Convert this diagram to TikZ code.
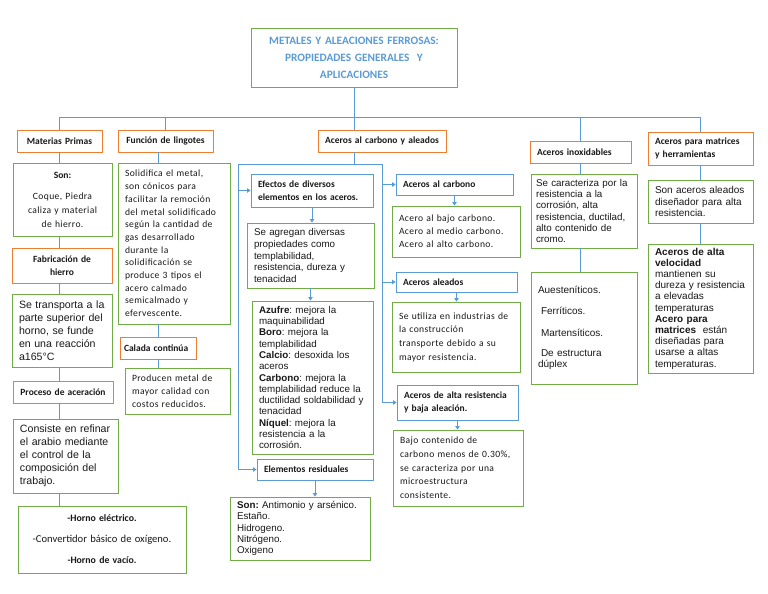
\documentclass[tikz,border=0pt]{standalone}
\usepackage{fontspec}
\setmainfont{Liberation Sans}
\newfontfamily\calibri{Carlito}
\newfontfamily\calibrisp{Carlito}[LetterSpace=4]
\usetikzlibrary{arrows.meta}
\usetikzlibrary{calc}
\definecolor{lineblue}{RGB}{91,155,213}
\definecolor{boxorange}{RGB}{237,125,49}
\definecolor{boxgreen}{RGB}{112,173,71}
\definecolor{textdark}{RGB}{25,25,25}
\frenchspacing

\begin{document}
\begin{tikzpicture}[x=1bp, y=-1bp, line width=0.9bp,
        box_style/.style={rectangle, inner xsep=7bp, inner ysep=2bp, text=textdark},
        title_style/.style={box_style, draw=boxgreen, align=center, text=lineblue, font=\calibri\bfseries\fontsize{11.3bp}{17bp}\selectfont},
        head_style/.style={box_style, draw=boxorange, font=\calibri\bfseries\fontsize{9.5bp}{13bp}\selectfont},
        sub_style/.style={box_style, draw=lineblue, align=left, font=\calibri\bfseries\fontsize{9.5bp}{13bp}\selectfont},
        text_style/.style={box_style, draw=boxgreen, align=left, font=\fontsize{9.8bp}{11.3bp}\selectfont},
        big_text_style/.style={box_style, draw=boxgreen, align=left, font=\fontsize{10.6bp}{13bp}\selectfont},
        cal_text_style/.style={box_style, draw=boxgreen, align=left, font=\calibrisp\fontsize{9.6bp}{12.7bp}\selectfont},
        size/.style 2 args={text width=#1, minimum height=#2},
        edge_style/.style={draw=lineblue, line width=0.8bp},
        arrow_style/.style={edge_style, -{Triangle[width=4.5bp,length=3.5bp]}}]

        \fill [white] (0,0) rectangle (768,594);
        \useasboundingbox (0,0) rectangle (768,594);

        \node [title_style, size={192bp}{59bp}](title) at (354,57.5) {METALES Y ALEACIONES FERROSAS:\\PROPIEDADES GENERALES\ \ Y\\APLICACIONES};

        \node [head_style, size={71bp}{22bp}, align=center](mp) at (59.5,141) {Materias Primas};

        \node [head_style, size={81bp}{22bp}, align=center](fl) at (165.5,141) {Función de lingotes};

        \node [head_style, size={114bp}{22bp}, align=center](aca) at (382,141) {Aceros al carbono y aleados};

        \node [head_style, size={87bp}{22bp}, align=left](inox) at (580.5,152) {Aceros inoxidables};

        \node [head_style, size={91bp}{33bp}, align=left](herr) at (700.5,148.5) {Aceros para matrices\\y herramientas};

        \node [cal_text_style, size={85bp}{73bp}, align=center, font=\calibrisp\fontsize{9.6bp}{14bp}\selectfont](son1) at (62.5,199.5) {{\calibri\bfseries Son:}\\[7bp]Coque, Piedra\\caliza y material\\de hierro.};

        \node [head_style, size={86bp}{35bp}, align=center](fab) at (62,265.5) {Fabricación de\\hierro};

        \node [big_text_style, size={86bp}{73bp}](tra) at (62,330.5) {Se transporta a la\\parte superior del\\horno, se funde\\en una reacción\\a165°C};

        \node [head_style, size={86bp}{22bp}, align=center](proc) at (63,392) {Proceso de aceración};

        \node [big_text_style, size={91bp}{74bp}](cons) at (65.5,456) {Consiste en refinar\\el arabio mediante\\el control de la\\composición del\\trabajo.};

        \node [box_style, draw=boxgreen, size={154bp}{67bp}, align=center, font=\calibri\bfseries\fontsize{9.8bp}{13bp}\selectfont](horno) at (102,539.5) {-Horno eléctrico.\\[8bp]{\mdseries\fontsize{10.6bp}{13bp}\selectfont -Convertidor básico de oxígeno.}\\[8bp]-Horno de vacío.};

        \node [cal_text_style, size={98bp}{161bp}](sol) at (174,243.5) {Solidifica el metal,\\son cónicos para\\facilitar la remoción\\del metal solidificado\\según la cantidad de\\gas desarrollado\\durante la\\solidificación se\\produce 3 tipos el\\acero calmado\\semicalmado y\\efervescente.};

        \node [head_style, size={68bp}{22bp}, inner xsep=4bp, align=left](cal) at (158,348) {Calada continúa};

        \node [cal_text_style, size={91bp}{46bp}, font=\calibrisp\fontsize{9.6bp}{13bp}\selectfont](prod) at (177.5,391) {Producen metal de\\mayor calidad con\\costos reducidos.};

        \node [sub_style, size={108bp}{33bp}](efe) at (312,190.5) {Efectos de diversos\\elementos en los aceros.};

        \node [text_style, size={113bp}{65bp}, font=\fontsize{9.8bp}{11.8bp}\selectfont](agr) at (310.5,255.5) {Se agregan diversas\\propiedades como\\templabilidad,\\resistencia, dureza y\\tenacidad};

        \node [text_style, size={107bp}{153bp}](azu) at (312.5,377.5) {\textbf{Azufre}: mejora la\\maquinabilidad\\\textbf{Boro}: mejora la\\templabilidad\\\textbf{Calcio}: desoxida los\\aceros\\\textbf{Carbono}: mejora la\\templabilidad reduce la\\ductilidad soldabilidad y\\tenacidad\\\textbf{Níquel}: mejora la\\resistencia a la\\corrosión.};

        \node [sub_style, size={102bp}{21bp}](res) at (315,469.5) {Elementos residuales};

        \node [text_style, size={126bp}{63bp}](son2) at (300,528.5) {\textbf{Son:} Antimonio y arsénico.\\Estaño.\\Hidrogeno.\\Nitrógeno.\\Oxigeno};

        \node [sub_style, size={103bp}{21bp}](acb) at (454.5,184.5) {Aceros al carbono};

        \node [cal_text_style, size={114bp}{51bp}, font=\calibrisp\fontsize{9.6bp}{13bp}\selectfont](bajo) at (456,231.5) {Acero al bajo carbono.\\Acero al medio carbono.\\Acero al alto carbono.};

        \node [sub_style, size={107bp}{20bp}](ale) at (456.5,282) {Aceros aleados};

        \node [cal_text_style, size={114bp}{70bp}, font=\calibrisp\fontsize{9.6bp}{13.7bp}\selectfont](uti) at (456,337) {Se utiliza en industrias de\\la construcción\\transporte debido a su\\mayor resistencia.};

        \node [sub_style, size={107bp}{35bp}](alt) at (457.5,402.5) {Aceros de alta resistencia\\y baja aleación.};

        \node [cal_text_style, size={116bp}{76bp}, font=\calibrisp\fontsize{9.6bp}{13.7bp}\selectfont](bco) at (458,468) {Bajo contenido de\\carbono menos de 0.30\%,\\se caracteriza por una\\microestructura\\consistente.};

        \node [text_style, size={96bp}{74bp}, inner xsep=5bp, font=\fontsize{9.8bp}{11.2bp}\selectfont](car) at (584,211) {Se caracteriza por la\\resistencia a la\\corrosión, alta\\resistencia, ductilad,\\alto contenido de\\cromo.};

        \node [text_style, size={92bp}{112bp}, font=\fontsize{10bp}{11.2bp}\selectfont](aus) at (584,328) {Auesteníticos.\\[10bp]\hspace*{3bp}Ferríticos.\\[10bp]\hspace*{3bp}Martensíticos.\\[9bp]\hspace*{3bp}De estructura\\dúplex\\[14bp]};

        \node [text_style, size={91bp}{43bp}, font=\fontsize{10bp}{11.2bp}\selectfont](sae) at (700.5,201.5) {Son aceros aleados\\diseñador para alta\\resistencia.};

        \node [text_style, size={91bp}{129bp}, font=\fontsize{10bp}{11.2bp}\selectfont](vel) at (700.5,308.5) {\textbf{Aceros de alta}\\\textbf{velocidad}\\mantienen su\\dureza y resistencia\\a elevadas\\temperaturas\\\textbf{Acero para}\\\textbf{matrices}\ \ están\\diseñadas para\\usarse a altas\\temperaturas.};

        \coordinate (bus) at (354,117);
        \coordinate (bl) at (238,164);
        \coordinate (br) at (382,164);

        \draw [edge_style] (mp.north) |- (herr.north |- bus) -- (herr.north);

        \draw [edge_style] (title.south) -- (title.south |- aca.north);

        \draw [edge_style] (fl.north) -- (fl.north |- bus);

        \draw [edge_style] (inox.north) -- (inox.north |- bus);

        \draw [edge_style] (mp.south) -- (mp.south |- son1.north);

        \draw [edge_style] (mp.south |- son1.south) -- (mp.south |- fab.north);

        \draw [edge_style] (mp.south |- fab.south) -- (mp.south |- tra.north);

        \draw [edge_style] (mp.south |- tra.south) -- (mp.south |- proc.north);

        \draw [edge_style] (mp.south |- proc.south) -- (mp.south |- cons.north);

        \draw [edge_style] (mp.south |- cons.south) -- (mp.south |- horno.north);

        \draw [edge_style] (cal.north |- fl.south) -- (cal.north |- sol.north);

        \draw [edge_style] (cal.north |- sol.south) -- (cal.north);

        \draw [edge_style] (cal.south) -- (cal.south |- prod.north);

        \draw [edge_style] (title.south |- aca.south) -- (title.south |- bl);

        \draw [edge_style] (bl) -- (br);

        \draw [arrow_style] (bl) |- (res.west);

        \draw [arrow_style] (bl |- efe.west) -- (efe.west);

        \draw [arrow_style] (br) |- (alt.west);

        \draw [arrow_style] (br |- acb.west) -- (acb.west);

        \draw [arrow_style] (br |- ale.west) -- (ale.west);

        \draw [arrow_style] (efe.south) -- (efe.south |- agr.north);

        \draw [arrow_style] (agr.south) -- (agr.south |- azu.north);

        \draw [arrow_style] (res.south) -- (res.south |- son2.north);

        \draw [arrow_style] (acb.south) -- (acb.south |- bajo.north);

        \draw [arrow_style] (ale.south) -- (ale.south |- uti.north);

        \draw [arrow_style] (alt.south) -- (alt.south |- bco.north);

        \draw [edge_style] (inox.south) -- (inox.south |- car.north);

        \draw [edge_style] (inox.south |- car.south) -- (inox.south |- aus.north);

        \draw [edge_style] (herr.south) -- (herr.south |- sae.north);

        \draw [edge_style] (herr.south |- sae.south) -- (herr.south |- vel.north);

\end{tikzpicture}
\end{document}
